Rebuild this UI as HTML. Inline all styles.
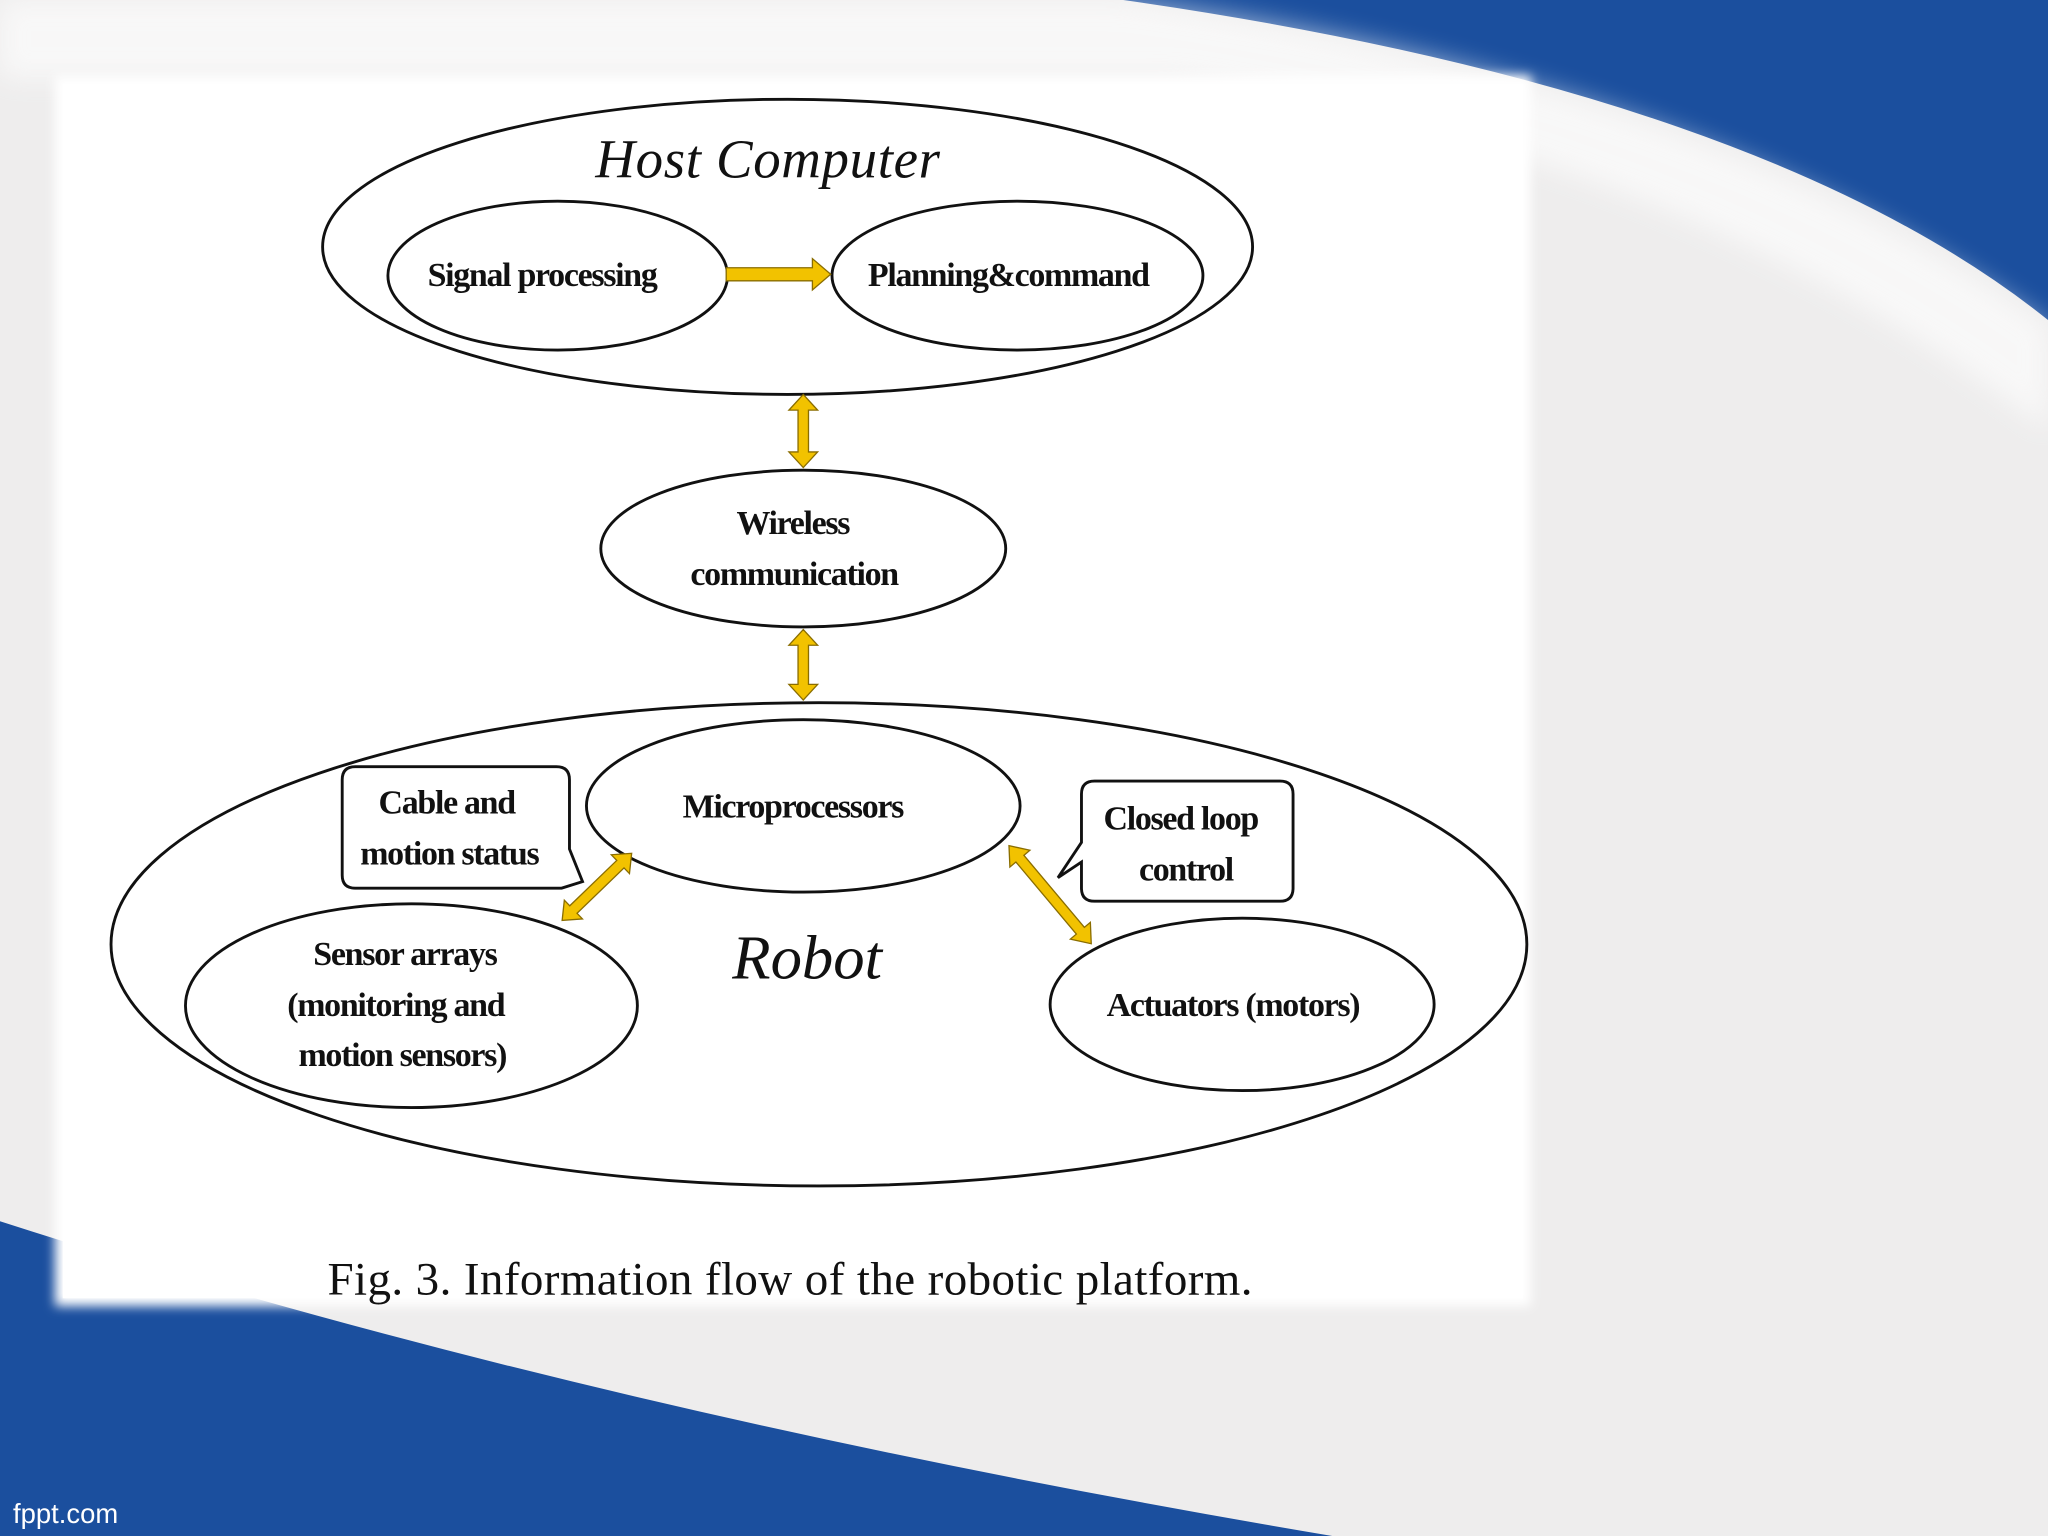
<!DOCTYPE html>
<html><head><meta charset="utf-8"><style>
html,body{margin:0;padding:0;background:#eeeded;}
svg{display:block}
text{font-family:"Liberation Serif",serif;}
.b{font-weight:bold;font-size:26px;letter-spacing:-1px}
.s{font-family:"Liberation Sans",sans-serif;}
</style></head><body>
<svg width="2048" height="1536" viewBox="0 0 1568 1176" xmlns="http://www.w3.org/2000/svg">
<defs>
<filter id="bl" x="-10%" y="-10%" width="120%" height="120%"><feGaussianBlur stdDeviation="10"/></filter>
<filter id="bl2"><feGaussianBlur stdDeviation="4"/></filter>
</defs>
<rect width="1568" height="1176" fill="#eeeded"/>
<path d="M860,0 L1568,0 L1568,245 Q1350,70 860,0 Z" fill="#1b4f9e"/>
<path d="M0,0 L860,0 Q1300,60 1568,250 L1568,330 Q1300,120 900,60 L0,60 Z" fill="#ffffff" opacity="0.6" filter="url(#bl)"/>
<path d="M0,935 Q450,1080 1020,1176 L0,1176 Z" fill="#1b4f9e"/>
<rect x="42" y="58" width="1130" height="942" fill="#ffffff" filter="url(#bl2)"/>
<rect x="48" y="64" width="1118" height="930" fill="#ffffff"/>
<g fill="none" stroke="#111" stroke-width="2.2">
<ellipse cx="603" cy="189" rx="356" ry="113"/>
<ellipse cx="427" cy="211" rx="130" ry="57"/>
<ellipse cx="779" cy="211" rx="142" ry="57"/>
<ellipse cx="615" cy="420" rx="155" ry="60"/>
<ellipse cx="627" cy="723" rx="542" ry="185"/>
<ellipse cx="615" cy="617" rx="166" ry="66"/>
<ellipse cx="315" cy="770" rx="173" ry="78"/>
<ellipse cx="951" cy="769" rx="147" ry="66"/>
<path d="M272,587 H426 Q436,587 436,597 V650 L446,675 L430,680 H272 Q262,680 262,670 V597 Q262,587 272,587 Z" fill="#fff"/>
<path d="M838,598 H980 Q990,598 990,608 V680 Q990,690 980,690 H838 Q828,690 828,680 V660 L810,672 L828,645 V608 Q828,598 838,598 Z" fill="#fff"/>
</g>
<g fill="#f2c200" stroke="#8a6d00" stroke-width="1">
<path d="M556,205 H622 V198 L636,210 L622,222 V215 H556 Z"/>
<path d="M615,302 L626,314 H619 V346 H626 L615,358 L604,346 H611 V314 H604 Z"/>
<path d="M615,482 L626,494 H619 V524 H626 L615,536 L604,524 H611 V494 H604 Z"/>
<g transform="translate(457,679) rotate(-44)"><path d="M-37,0 L-25,-10 V-4 H25 V-10 L37,0 L25,10 V4 H-25 V10 Z"/></g>
<g transform="translate(804,685) rotate(50)"><path d="M-49,0 L-36,-10 V-4 H36 V-10 L49,0 L36,10 V4 H-36 V10 Z"/></g>
</g>
<g fill="#111" text-anchor="middle">
<text x="588" y="136" font-size="42" font-style="italic" letter-spacing="0.5">Host Computer</text>
<text class="b" x="415" y="219">Signal processing</text>
<text class="b" x="772" y="219">Planning&amp;command</text>
<text class="b" x="607" y="409">Wireless</text>
<text class="b" x="608" y="448">communication</text>
<text class="b" x="607" y="626">Microprocessors</text>
<text class="b" x="342" y="623">Cable and</text>
<text class="b" x="344" y="662">motion status</text>
<text class="b" x="904" y="635">Closed loop</text>
<text class="b" x="908" y="674">control</text>
<text x="618" y="749" font-size="48" font-style="italic">Robot</text>
<text class="b" x="310" y="739">Sensor arrays</text>
<text class="b" x="303" y="778">(monitoring and</text>
<text class="b" x="308" y="816">motion sensors)</text>
<text class="b" x="944" y="778">Actuators (motors)</text>
<text x="605" y="991" font-size="36" letter-spacing="0.3">Fig. 3. Information flow of the robotic platform.</text>
</g>
<text class="s" x="10" y="1166" font-size="21" fill="#fff">fppt.com</text>
</svg>
</body></html>
